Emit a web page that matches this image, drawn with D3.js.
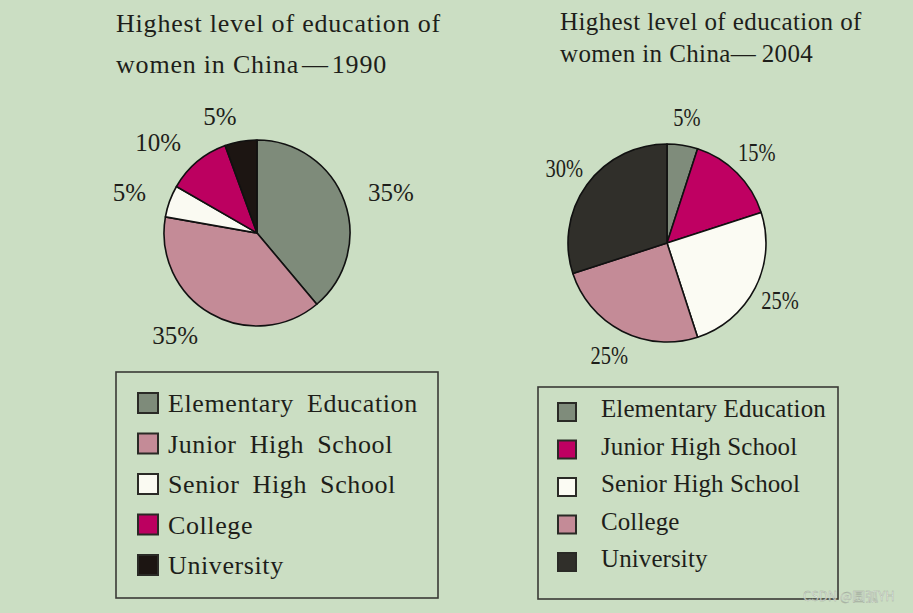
<!DOCTYPE html>
<html>
  <head>
    <script src="https://d3js.org/d3.v7.min.js"></script>
    <style>
      body { margin: 0; background: #cbdec3; }
      svg { display: block; }
    </style>
  </head>
  <body>
    <svg width="913" height="613"></svg>
    <script>

      // data for both pies
      const categories = ["Elementary Education", "Junior High School", "Senior High School", "College", "University"];
      const values1990 = [35, 35, 5, 10, 5];
      const values2004 = [5, 15, 25, 25, 30];
      const labels1990 = ["35%", "35%", "5%", "10%", "5%"];
      const labels2004 = ["5%", "15%", "25%", "25%", "30%"];

      // colours (the 2004 legend swaps pink and magenta, as in the original)
      const colors1990 = ["#7e8b7a", "#c48b97", "#fafaf2", "#bc0060", "#1c1512"];
      const colors2004 = ["#7f8c7b", "#bf0062", "#fbfbf3", "#c48b97", "#302f2a"];

      const svg = d3.select("svg");
      const serif = "'Liberation Serif', 'Times New Roman', serif";

      svg.append("rect")
          .attr("width", 913)
          .attr("height", 613)
          .attr("fill", "#cbdec3");

      // titles
      const titles = [
        {x: 116, y: 32, lines: ["Highest level of education of", "women in China\u200a\u2014\u200a1990"], size: 26, ls: 0.8, gap: 40.5},
        {x: 560, y: 30, lines: ["Highest level of education of", "women in China\u2014\u20092004"], size: 25, ls: 0.4, gap: 31.5}
      ];
      titles.forEach(t => {
        t.lines.forEach((line, i) => {
          svg.append("text")
              .attr("x", t.x)
              .attr("y", t.y + i * t.gap)
              .style("font-family", serif)
              .style("font-size", t.size + "px")
              .style("letter-spacing", t.ls + "px")
              .attr("fill", "#1e1e1a")
              .text(line);
        });
      });

      const pie = d3.pie().sort(null).value(d => d);

      // sideAnchor: labels hang off the pie to the left/right instead of centred
      function drawPie(cx, cy, r, values, labels, colors, labelR, labelSize, squeeze, sideAnchor) {
        const g = svg.append("g")
            .attr("transform", `translate(${cx}, ${cy})`);
        const arc = d3.arc().innerRadius(0).outerRadius(r);
        const labelArc = d3.arc().innerRadius(labelR).outerRadius(labelR);
        const arcs = pie(values);

        g.selectAll("path")
          .data(arcs)
          .enter()
          .append("path")
          .attr("d", arc)
          .attr("fill", (d, i) => colors[i])
          .attr("stroke", "#111")
          .attr("stroke-width", 1.6)
          .attr("stroke-linejoin", "round");

        const mid = d => (d.startAngle + d.endAngle) / 2;

        g.selectAll(".lbl")
          .data(arcs)
          .enter()
          .append("text")
          .attr("class", "lbl")
          .attr("transform", d => {
            const c = labelArc.centroid(d);
            return `translate(${c[0]}, ${c[1]}) scale(${squeeze}, 1)`;
          })
          .attr("text-anchor", d => !sideAnchor ? "middle" : (mid(d) < Math.PI ? "start" : "end"))
          .attr("dominant-baseline", "central")
          .style("font-family", serif)
          .style("font-size", labelSize + "px")
          .attr("fill", "#1e1e1a")
          .text((d, i) => labels[i]);
      }

      drawPie(257, 233, 93, values1990, labels1990, colors1990, 118, 25, 1, true);
      drawPie(667, 243, 99, values2004, labels2004, colors2004, 127, 25, 0.82, false);

      // legends
      function drawLegend(box, colors, opts) {
        const g = svg.append("g");
        g.append("rect")
            .attr("x", box.x)
            .attr("y", box.y)
            .attr("width", box.w)
            .attr("height", box.h)
            .attr("fill", "none")
            .attr("stroke", "#3a3a36")
            .attr("stroke-width", 1.6);

        const y = d3.scaleLinear()
            .domain([0, categories.length - 1])
            .range([opts.firstY, opts.lastY]);

        const rows = g.selectAll(".row")
          .data(categories)
          .enter()
          .append("g")
          .attr("transform", (d, i) => `translate(0, ${y(i)})`);

        rows.append("rect")
            .attr("x", opts.swX)
            .attr("y", -opts.sw + opts.swDrop)
            .attr("width", opts.sw)
            .attr("height", opts.sw)
            .attr("fill", (d, i) => colors[i])
            .attr("stroke", "#2a2a26")
            .attr("stroke-width", 2);

        rows.append("text")
            .attr("x", opts.textX)
            .attr("y", 0)
            .style("font-family", serif)
            .style("font-size", opts.size + "px")
            .style("letter-spacing", opts.ls + "px")
            .style("word-spacing", opts.ws + "px")
            .attr("fill", "#1e1e1a")
            .text(d => d);
      }

      drawLegend({x: 116, y: 372, w: 322, h: 226}, colors1990,
        {firstY: 412, lastY: 574, swX: 138, sw: 20, swDrop: 1, textX: 168, size: 26, ls: 0.6, ws: 6});
      drawLegend({x: 538, y: 387, w: 300, h: 212}, colors2004,
        {firstY: 417, lastY: 567, swX: 558, sw: 18, swDrop: 4, textX: 601, size: 25, ls: 0.1, ws: 0});

      // watermark
      svg.append("text")
          .attr("x", 803)
          .attr("y", 601)
          .style("font-family", "'Noto Sans CJK SC', 'Noto Sans', sans-serif")
          .style("font-size", "13px")
          .attr("fill", "#eef1ec")
          .attr("stroke", "#9aa596")
          .attr("stroke-width", 0.4)
          .attr("opacity", 0.85)
          .text("CSDN @圆弧YH");

    </script>
  </body>
</html>
